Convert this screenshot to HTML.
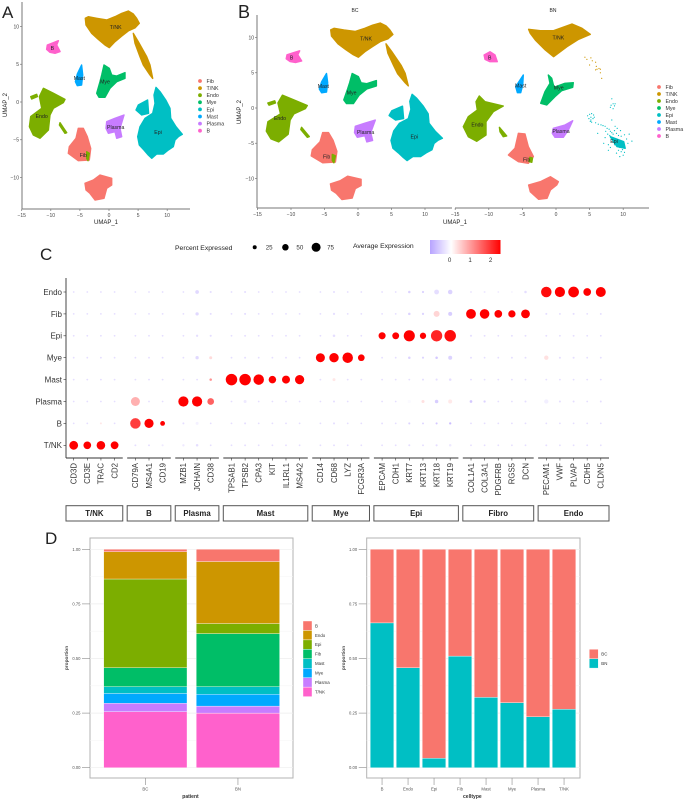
<!DOCTYPE html>
<html lang="en">
<head>
<meta charset="utf-8">
<title>Single-cell atlas figure</title>
<style>
html,body{margin:0;padding:0;background:#fff;}
svg{display:block;font-family:"Liberation Sans",sans-serif;filter:blur(0.3px);}
text{fill:#222;}
</style>
</head>
<body>
<svg id="fig" xmlns="http://www.w3.org/2000/svg" width="685" height="801" viewBox="0 0 685 801">
<defs>
<linearGradient id="avgGradient" x1="0" x2="1" y1="0" y2="0">
<stop offset="0" stop-color="#b7a3ff"/><stop offset="0.3" stop-color="#ffffff"/><stop offset="1" stop-color="#ff0000"/>
</linearGradient>
</defs>
<rect width="685" height="801" fill="#fff"/>
<text x="2" y="18" font-size="17">A</text>
<text x="238" y="18" font-size="18">B</text>
<text x="40" y="260" font-size="17">C</text>
<text x="45" y="544" font-size="17">D</text>
<text x="175" y="250" font-size="6.8">Percent Expressed</text>
<text x="353" y="248" font-size="6.8">Average Expression</text>
<rect x="430" y="240" width="70.5" height="14" fill="url(#avgGradient)"/>
<g id="root"></g>
</svg>
<script>
/* ---------- UMAP data (UMAP_1, UMAP_2 coordinates) ---------- */
const clusterNames = ['Fib','T/NK','Endo','Mye','Epi','Mast','Plasma','B'];
const clusterColors = {'Fib':'#F8766D','T/NK':'#CD9600','Endo':'#7CAE00','Mye':'#00BE67','Epi':'#00BFC4','Mast':'#00A9FF','Plasma':'#C77CFF','B':'#FF61CC'};
const umapTicksX = [-15,-10,-5,0,5,10];
const umapTicksY = [-10,-5,0,5,10];

const shapesAll = [
 ['T/NK',[[-4.07,11.08],[-3.55,11.3],[-2.12,11.08],[-0.4,10.86],[1.03,11.3],[2.18,11.74],[3.32,12.05],[4.18,11.65],[4.75,11.08],[5.21,10.42],[4.47,9.82],[3.32,9.42],[2.18,8.73],[1.03,7.99],[0.06,7.2],[-0.69,7.55],[-1.83,8.3],[-2.98,9.1],[-3.95,10.2]]],
 ['T/NK',[[4.18,9.1],[5.04,7.99],[6.47,6.0],[7.04,4.9],[7.5,3.13],[7.04,3.58],[5.9,4.9],[5.33,6.0],[4.47,7.77]]],
 ['B',[[-10.6,7.55],[-9.56,7.86],[-8.7,8.12],[-8.99,7.55],[-8.4,6.67],[-9.28,6.45],[-10.14,6.58],[-10.72,6.98]]],
 ['Mast',[[-4.7,4.9],[-4.52,3.58],[-4.7,2.25],[-5.44,2.16],[-5.78,2.69],[-5.44,3.71]]],
 ['Mye',[[-0.86,4.9],[0.06,4.46],[0.46,3.58],[1.32,3.44],[2.75,3.89],[2.75,3.13],[1.32,2.69],[0.17,1.81],[-0.69,0.62],[-1.72,0.62],[-2.12,1.15],[-1.55,2.69],[-1.26,3.58]]],
 ['Endo',[[-11.28,1.81],[-9.56,1.15],[-7.56,0.35],[-7.85,-0.09],[-9.56,-0.84],[-10.14,-1.72],[-10.42,-3.71],[-11.85,-4.81],[-13,-4.37],[-13.68,-3.27],[-13.45,-1.94],[-11.56,-0.84],[-11.96,0.71]]],
 ['Endo',[[-8.42,-2.74],[-7.27,-4.06],[-7.56,-4.15],[-8.53,-3.05]]],
 ['Endo',[[-13.46,0.71],[-12.43,1.02],[-12.31,0.71],[-13.29,0.4]]],
 ['Plasma',[[-0.4,-2.6],[1.03,-2.16],[2.58,-1.72],[1.89,-3.49],[2.18,-4.59],[1.32,-4.81],[1.03,-3.93],[-0.11,-4.15],[-0.52,-3.49]]],
 ['Epi',[[8.08,1.94],[8.76,1.37],[9.74,0.26],[10.48,-0.84],[10.6,-2.16],[11.51,-3.27],[12.6,-4.28],[11.91,-4.59],[11.34,-5.03],[11.05,-5.92],[10.19,-6.36],[9.34,-6.89],[8.19,-6.89],[7.33,-7.46],[6.76,-7.02],[6.01,-6.36],[5.21,-5.7],[4.93,-4.59],[5.33,-3.27],[6.19,-2.16],[7.5,-1.5],[7.9,-0.18],[7.73,0.93]]],
 ['Epi',[[5.04,-0.4],[6.64,0.26],[6.81,-1.5],[5.61,-1.72],[4.64,-1.06]]],
 ['Fib',[[-5.27,-3.49],[-4.41,-3.49],[-3.72,-4.59],[-3.15,-6.14],[-3.38,-7.68],[-5.27,-7.77],[-6.99,-6.8],[-6.82,-5.92],[-5.67,-4.81]]],
 ['Fib',[[-4.12,-10.77],[-2.69,-10.33],[-1.55,-9.67],[0.46,-10.11],[0.46,-10.99],[-0.4,-11.43],[-0.86,-12.76],[-2.41,-12.98],[-3.26,-12.1],[-3.95,-11.66]]],
 ['Endo',[[-3.84,-6.58],[-3.38,-6.8],[-3.6,-7.77],[-3.84,-7.46]]]
];
const shapesBN = [
 ['T/NK',[[-4.07,11.16],[-2.33,10.97],[-0.35,10.97],[2.38,11.92],[3.87,11.3],[5.11,10.45],[3.37,9.74],[1.63,8.7],[-0.35,7.28],[-1.59,8.23],[-3.08,9.65],[-3.82,10.59]]],
 ['B',[[-10.7,7.52],[-9.82,7.99],[-9.08,7.52],[-8.73,6.57],[-9.82,6.57],[-10.57,6.9]]],
 ['Mast',[[-4.86,4.68],[-4.96,3.26],[-5.26,2.17],[-5.75,2.17],[-6,3.03]]],
 ['Mye',[[-1.14,4.68],[-0.64,4.21],[-0.3,2.93],[1.34,3.5],[2.58,3.59],[2.48,2.93],[0.84,2.46],[-0.15,1.61],[-1.39,0.43],[-2.28,0.66],[-1.64,2.32],[-0.89,3.5]]],
 ['Endo',[[-11.41,1.7],[-10.57,0.9],[-7.84,0.28],[-9.33,-0.52],[-10.42,-1.94],[-10.42,-3.83],[-11.8,-4.73],[-13.05,-4.07],[-13.79,-2.65],[-13.05,-1.23],[-11.71,-0.28],[-11.9,0.9]]],
 ['Endo',[[-8.43,-2.74],[-7.34,-3.97],[-7.84,-4.07],[-8.33,-3.36]]],
 ['Plasma',[[-0.4,-2.88],[1.34,-2.41],[2.48,-1.8],[1.84,-3.12],[1.09,-4.16],[-0.15,-4.16],[-0.55,-3.6]]],
 ['Fib',[[-5.6,-3.59],[-4.61,-3.69],[-4.12,-5.48],[-3.37,-6.9],[-4.12,-7.85],[-5.6,-7.61],[-7.09,-6.67],[-6.1,-5.72]]],
 ['Fib',[[-4.07,-10.92],[-2.33,-10.45],[-0.84,-9.74],[0.35,-10.45],[0.1,-10.92],[-0.84,-11.63],[-1.34,-12.81],[-2.58,-12.95],[-3.82,-11.87]]],
 ['Epi',[[8.08,-4.07],[10.07,-4.78],[10.3,-5.72],[9.08,-5.48]]],
 ['Endo',[[-3.9,-7],[-3.5,-7.1],[-3.6,-7.7],[-4,-7.6]]]
];
const scatterEpiBN = [[4.7,-1.1],[5,-0.9],[5.3,-0.8],[5.6,-1],[5.2,-1.3],[4.9,-1.5],[5.5,-1.5],[5.7,-1.3],[5.1,-1.9],[5.3,-2],[5.2,-1.7],[5.9,-2.1],[6.3,-2.3],[6.7,-2.4],[7,-2.5],[7.3,-2.6],[7.6,-2.9],[7.9,-3],[8.1,-3.3],[8.3,-3.5],[8.5,-3.7],[8.7,-3.2],[9,-3.6],[8,-3.9],[8.3,-4.3],[7.7,-3.7],[7.4,-3.3],[8.8,-2.6],[8.3,-1.7],[9.1,-2.9],[8.5,-0.1],[8.2,0.4],[8.5,0.6],[8.7,0.3],[8.3,1.3],[8.1,0.1],[8.8,0.6],[7.3,-4.2],[7.1,-5],[7.8,-5.2],[8.1,-5.6],[8.7,-5.2],[9,-6.4],[9.5,-6.9],[9.7,-6.2],[10,-6.7],[10.2,-6.3],[9.3,-6],[10.7,-5],[11.3,-4.7],[10.9,-3.7],[9.7,-4],[9.2,-4.5],[9.6,-3.2],[10.2,-3.8],[8.7,-4.6],[9.5,-5.6],[9.9,-5.9],[8.5,-4.9],[9.3,-3.9],[6.2,-3.6],[7.8,-6],[10.5,-4.4]];
const scatterTnkBN = [[4.3,7.2],[4.6,6.9],[5.2,7.1],[5.4,6.7],[5.9,6.5],[6,5.9],[6.4,5.6],[6.1,5.5],[5.9,5.4],[6.6,5.5],[6.6,5],[6.8,4.2],[5,6.1]];
const labelsA = [['T/NK',1.15,9.9],['Endo',-11.57,-1.9],['B',-9.74,7.1],['Mast',-5.1,3.18],['Mye',-0.69,2.69],['Plasma',1.15,-3.36],['Epi',8.42,-4.02],['Fib',-4.41,-7.02]];
const labelsBC = [['T/NK',1.2,9.8],['Endo',-11.64,-1.42],['B',-9.9,7.1],['Mast',-5.17,3.1],['Mye',-0.95,2.17],['Plasma',1.14,-3.45],['Epi',8.4,-4.07],['Fib',-4.68,-6.9]];
const labelsBN = [['T/NK',0.35,10],['Endo',-11.7,-2.36],['B',-9.87,7.1],['Mast',-5.26,3.17],['Mye',0.4,2.88],['Plasma',0.74,-3.3],['Epi',8.63,-4.68],['Fib',-4.37,-7.33]];

/* ---------- Dot plot data ---------- */
const dotRows = ['Endo','Fib','Epi','Mye','Mast','Plasma','B','T/NK'];
const geneGroups = ['T/NK','B','Plasma','Mast','Mye','Epi','Fibro','Endo'];
const genesByGroup = [['CD3D','CD3E','TRAC','CD2'],['CD79A','MS4A1','CD19'],['MZB1','JCHAIN','CD38'],['TPSAB1','TPSB2','CPA3','KIT','IL1RL1','MS4A2'],['CD14','CD68','LYZ','FCGR3A'],['EPCAM','CDH1','KRT7','KRT13','KRT18','KRT19'],['COL1A1','COL3A1','PDGFRB','RGS5','DCN'],['PECAM1','VWF','PLVAP','CDH5','CLDN5']];
const pctEndo   = [3,3,3,3, 3,3,3, 3,22,6, 3,6,3,3,3,3, 3,5,3,3, 3,3,10,7,33,30, 6,5,3,4,10, 90,87,92,62,85];
const pctFib    = [3,3,3,3, 3,3,3, 3,18,5, 3,6,3,3,3,3, 3,7,3,3, 3,3,10,7,45,25, 83,81,62,58,73, 5,4,5,3,4];
const pctEpi    = [3,3,3,3, 3,3,3, 3,8,6, 3,4,3,3,3,3, 3,10,3,3, 56,54,96,48,98,100, 6,4,3,4,4, 4,3,4,3,3];
const pctMye    = [3,3,3,3, 3,3,3, 3,18,15, 3,4,3,3,3,3, 75,79,90,52, 3,3,10,6,10,25, 4,3,3,4,4, 28,5,5,3,3];
const pctMast   = [3,3,3,3, 3,3,3, 3,3,10, 100,100,90,60,65,77, 3,15,3,3, 3,3,3,5,6,10, 3,3,3,3,3, 3,3,3,3,3];
const pctPlasma = [3,3,3,3, 75,3,3, 87,87,52, 3,15,3,3,3,3, 3,5,3,3, 3,3,18,15,20,25, 12,8,3,3,5, 28,5,5,3,4];
const pctB      = [3,3,5,3, 90,77,33, 5,15,3, 3,5,3,3,3,3, 3,6,3,3, 4,3,6,4,6,8, 3,3,3,3,3, 3,3,3,3,3];
const pctTNK    = [73,62,71,63, 4,4,6, 8,10,3, 3,4,3,3,3,3, 3,4,3,3, 3,3,5,4,6,10, 3,3,3,3,3, 4,3,3,3,3];
const pctMatrix = [pctEndo,pctFib,pctEpi,pctMye,pctMast,pctPlasma,pctB,pctTNK];
const avgEndo   = [-.2,-.2,-.2,-.2, -.2,-.2,-.2, -.2,-.25,-.2, -.2,-.2,-.2,-.2,-.2,-.2, -.2,-.2,-.2,-.2, -.2,-.2,-.3,-.3,-.2,-.3, -.1,-.1,-.1,0,-.2, 2.1,2.5,2.5,2.5,2.5];
const avgFib    = [-.2,-.2,-.2,-.2, -.2,-.2,-.2, -.2,-.25,-.2, -.2,-.2,-.2,-.2,-.2,-.2, -.2,-.2,-.2,-.2, -.2,-.2,-.3,-.3,.45,-.35, 2.5,2.5,2.5,2.3,2.5, -.2,-.2,-.2,-.2,-.2];
const avgEpi    = [-.2,-.2,-.2,-.2, -.2,-.2,-.2, -.2,-.2,-.2, -.2,-.2,-.2,-.2,-.2,-.2, -.2,-.2,-.2,-.2, 2.5,2.5,2.5,2.5,1.9,2.1, -.2,-.2,-.2,-.2,-.2, -.2,-.2,-.2,-.2,-.2];
const avgMye    = [-.2,-.2,-.2,-.2, -.2,-.2,-.2, -.2,-.25,.4, -.2,-.2,-.2,-.2,-.2,-.2, 2.5,2.4,2.5,2.5, -.2,-.2,-.3,-.3,-.4,-.3, -.2,-.2,-.2,-.2,-.2, .35,-.2,-.2,-.2,-.2];
const avgMast   = [-.2,-.2,-.2,-.2, -.2,-.2,-.2, -.2,-.2,1, 2.5,2.5,2.5,2.5,2.5,2.5, -.2,.3,-.2,-.2, -.2,-.2,-.2,-.2,-.2,-.2, -.2,-.2,-.2,-.2,-.2, -.2,-.2,-.2,-.2,-.2];
const avgPlasma = [-.2,-.2,-.2,-.2, .75,-.2,-.2, 2.5,2.5,1.4, -.2,-.1,-.2,-.2,-.2,-.2, -.2,-.2,-.2,-.2, -.2,-.2,.05,.35,-.35,.28, -.4,-.3,-.2,-.2,-.2, -.05,-.2,-.2,-.2,-.2];
const avgB      = [-.2,-.2,.3,-.2, 1.7,2.5,2.5, -.2,-.03,-.2, -.2,-.2,-.2,-.2,-.2,-.2, -.2,-.2,-.2,-.2, -.2,-.2,-.3,-.3,-.4,-.5, -.2,-.2,-.2,-.2,-.2, -.2,-.2,-.2,-.2,-.2];
const avgTNK    = [2.5,2.4,2.2,2.4, -.2,-.2,-.1, -.1,-.2,-.2, -.2,-.2,-.2,-.2,-.2,-.2, -.2,-.2,-.2,-.2, -.2,-.2,-.2,-.2,-.2,-.1, -.2,-.2,-.2,-.2,-.2, -.2,-.2,-.2,-.2,-.2];
const avgMatrix = [avgEndo,avgFib,avgEpi,avgMye,avgMast,avgPlasma,avgB,avgTNK];
const sizeLegendValues = [25,50,75];
const colorbarTicks = [0,1,2];

/* ---------- Stacked bar data ---------- */
const patientCategories = ['BC','BN'];
const stackOrderLeft = ['T/NK','Plasma','Mye','Mast','Fib','Epi','Endo','B'];
const shareBC = [0.2565,0.0385,0.045,0.031,0.087,0.406,0.125,0.011];
const shareBN = [0.25,0.032,0.054,0.035,0.243,0.046,0.284,0.056];
const legendOrderLeft = ['B','Endo','Epi','Fib','Mast','Mye','Plasma','T/NK'];
const legendColorsLeft = {'B':'#F8766D','Endo':'#CD9600','Epi':'#7CAE00','Fib':'#00BE67','Mast':'#00BFC4','Mye':'#00A9FF','Plasma':'#C77CFF','T/NK':'#FF61CC'};
const celltypeCategories = ['B','Endo','Epi','Fib','Mast','Mye','Plasma','T/NK'];
const celltypeShareBN = [0.663,0.458,0.043,0.511,0.322,0.298,0.233,0.268];
const celltypeShareBC = [0.337,0.542,0.957,0.489,0.678,0.702,0.767,0.732];
const proportionTicks = [0,0.25,0.5,0.75,1];
const proportionMinor = [0.125,0.375,0.625,0.875];

/* ---------- Helpers ---------- */
const NS = 'http://www.w3.org/2000/svg';
const root = document.getElementById('root');
function mk(tag, props, parent){
  const e = document.createElementNS(NS, tag);
  for (const k in props) e.setAttribute(k, props[k]);
  (parent || root).appendChild(e);
  return e;
}
function slug(s){ return String(s).toLowerCase().replace(/[^a-z0-9]+/g,'-').replace(/^-|-$/g,''); }
function txt(str, x, y, size, anchor, parent, extra){
  const e = mk('text', Object.assign({x:x, y:y, 'font-size':size, 'text-anchor':anchor||'start'}, extra||{}), parent);
  e.textContent = str;
  return e;
}
function line(x1,y1,x2,y2,color,w,parent){
  return mk('line',{x1:x1,y1:y1,x2:x2,y2:y2,stroke:color,'stroke-width':w},parent);
}
function fmt(v){ return v<0 ? '\u2212'+Math.abs(v) : String(v); }

/* ---------- UMAP panels ---------- */
function umapPanel(cfg){
  const g = mk('g',{});
  
  
  const X = u => cfg.x0 + cfg.sx*u;
  const Y = v => cfg.y0 - cfg.sy*v;
  const marks = mk('g',{},g);
  
  
  cfg.shapes.forEach(s => {
    const c = clusterColors[s[0]];
    const p = mk('polygon',{points:s[1].map(q=>X(q[0]).toFixed(1)+','+Y(q[1]).toFixed(1)).join(' '),fill:c,stroke:c,'stroke-width':1.4,'stroke-linejoin':'round'},marks);
    
    
  });
  (cfg.scatter||[]).forEach(s => {
    s[1].forEach(q => {
      const d = mk('circle',{cx:X(q[0]).toFixed(1),cy:Y(q[1]).toFixed(1),r:0.6,fill:clusterColors[s[0]]},marks);
      
      
    });
  });
  cfg.labels.forEach(l => {
    const t = txt(l[0], X(l[1]), Y(l[2])+1.8, 5.2, 'middle', g);
    
    
  });
  const axisColor = '#777';
  const xAxis = line(cfg.axisL, cfg.axisB, cfg.axisR, cfg.axisB, axisColor, 1, g);
  
  
  umapTicksX.forEach(t => {
    line(X(t),cfg.axisB,X(t),cfg.axisB+2,axisColor,0.7,g);
    const lab = txt(fmt(t), X(t), cfg.axisB+8, 5, 'middle', g, {style:'fill:#444'});
    
    
  });
  if (cfg.showY){
    const yAxis = line(cfg.axisL, cfg.axisT, cfg.axisL, cfg.axisB, axisColor, 1, g);
    
    
    umapTicksY.forEach(t => {
      line(cfg.axisL-2,Y(t),cfg.axisL,Y(t),axisColor,0.7,g);
      const lab = txt(fmt(t), cfg.axisL-3, Y(t)+1.8, 5, 'end', g, {style:'fill:#444'});
      
      
    });
    const yt = txt('UMAP_2', cfg.yTitleX, cfg.yTitleY, 6, 'middle', g, {transform:'rotate(-90 '+cfg.yTitleX+' '+cfg.yTitleY+')'});
    
    
  }
  if (cfg.title){
    const tt = txt(cfg.title, X(0)-3, 12, 5, 'middle', g);
    
    
  }
  if (cfg.legendX){
    clusterNames.forEach((n,i) => {
      const y = cfg.legendY + i*cfg.legendStep;
      const d = mk('circle',{cx:cfg.legendX,cy:y,r:1.9,fill:clusterColors[n]},g);
      
      
      const t = txt(n, cfg.legendX+6.5, y+1.9, 5.3, 'start', g, {style:'fill:#333'});
      
      
    });
  }
}
umapPanel({name:'all-cells',x0:109,sx:5.82,y0:102,sy:7.55,shapes:shapesAll,labels:labelsA,axisL:22,axisR:190,axisB:209,axisT:2,showY:true,yTitleX:7,yTitleY:105,legendX:200,legendY:81,legendStep:7.1});
umapPanel({name:'bc',x0:358,sx:6.7,y0:108,sy:7.05,shapes:shapesAll,labels:labelsBC,axisL:257,axisR:452,axisB:208,axisT:15,showY:true,yTitleX:241,yTitleY:112,title:'BC'});
umapPanel({name:'bn',x0:556,sx:6.72,y0:108,sy:7.05,shapes:shapesBN,scatter:[['Epi',scatterEpiBN],['T/NK',scatterTnkBN]],labels:labelsBN,axisL:455,axisR:649,axisB:208,axisT:15,showY:false,title:'BN',legendX:659,legendY:87,legendStep:7});
const t1a = txt('UMAP_1', 106, 224, 6, 'middle');


const t1b = txt('UMAP_1', 455, 224, 6, 'middle');



/* ---------- Dot plot ---------- */
const dotX0 = 73.7, geneStep = 13.62, groupGap = 7.2;
const rowY0 = 292, rowStep = 21.9;
const rowY = i => rowY0 + i*rowStep;
const geneX = (geneIndex, groupIndex) => dotX0 + geneIndex*geneStep + groupIndex*groupGap;
const radius = p => 0.75 + 0.05*p;
function avgColor(v){
  const w = 0.1;
  const mix = (a,b,t) => Math.round(a+(b-a)*t);
  if (v <= w){
    const t = Math.min(1,(w-v)/1.05);
    return 'rgb('+mix(255,164,t)+','+mix(255,140,t)+',255)';
  }
  const t = Math.min(1,(v-w)/2.1);
  return 'rgb(255,'+mix(255,0,t)+','+mix(255,0,t)+')';
}
const dotG = mk('g',{});


const dyAxis = line(66,278,66,458,'#333',0.9,dotG);


dotRows.forEach((r,i) => {
  line(63.5,rowY(i),66,rowY(i),'#333',0.6,dotG);
  const t = txt(r, 62, rowY(i)+2.9, 8, 'end', dotG, {style:'fill:#333'});
  
  
});
let geneCounter = 0;
genesByGroup.forEach((genes,gi) => {
  const firstX = geneX(geneCounter,gi), lastX = geneX(geneCounter+genes.length-1,gi);
  const left = gi===0 ? 66 : firstX-8.2, right = lastX+8.2;
  const seg = line(left,458,right,458,'#333',0.9,dotG);
  
  
  const box = mk('rect',{x:left,y:505.7,width:right-left,height:15.3,fill:'#fff',stroke:'#555','stroke-width':1},dotG);
  
  
  const bl = txt(geneGroups[gi], (left+right)/2, 516.2, 7.8, 'middle', dotG, {'font-weight':'bold',style:'fill:#222'});
  
  
  genes.forEach((gene,k) => {
    const idx = geneCounter + k;
    const x = geneX(idx,gi);
    line(x,458,x,460.5,'#333',0.6,dotG);
    const lab = txt(gene, x+2.8, 463, 7.8, 'end', dotG, {transform:'rotate(-90 '+(x+2.8)+' 463)',style:'fill:#333'});
    
    
    dotRows.forEach((r,ri) => {
      const d = mk('circle',{cx:x.toFixed(1),cy:rowY(ri).toFixed(1),r:radius(pctMatrix[ri][idx]).toFixed(2),fill:avgColor(avgMatrix[ri][idx])},dotG);
      
      
    });
  });
  geneCounter += genes.length;
});
sizeLegendValues.forEach((v,i) => {
  const x = 254.7 + i*30.7;
  const d = mk('circle',{cx:x,cy:247.3,r:radius(v),fill:'#000'},dotG);
  
  
  const t = txt(String(v), x+11, 249.6, 6.2, 'start', dotG, {style:'fill:#333'});
  
  
});
colorbarTicks.forEach(v => {
  const t = txt(String(v), 449.6 + v*20.5, 262, 6.2, 'middle', dotG, {style:'fill:#333'});
  
  
});

/* ---------- Stacked bars ---------- */
function barFrame(cfg){
  const g = mk('g',{});
  
  
  const panel = mk('rect',{x:cfg.l,y:538,width:cfg.r-cfg.l,height:240,fill:'#fff',stroke:'#b3b3b3','stroke-width':1},g);
  
  
  const Y = v => 767.7 - 218.4*v;
  proportionMinor.forEach(v => line(cfg.l,Y(v),cfg.r,Y(v),'#f5f5f5',0.5,g));
  proportionTicks.forEach(v => {
    line(cfg.l,Y(v),cfg.r,Y(v),'#eeeeee',0.7,g);
    line(cfg.l-8,Y(v),cfg.l,Y(v),'#888',0.6,g);
    const t = txt(v.toFixed(2), cfg.l-9.5, Y(v)+1.5, 4.2, 'end', g, {style:'fill:#555'});
    
    
  });
  const yt = txt('proportion', cfg.yTitleX, 658, 4.8, 'middle', g, {transform:'rotate(-90 '+cfg.yTitleX+' 658)','font-weight':'bold',style:'fill:#444'});
  
  
  const xt = txt(cfg.xTitle, (cfg.l+cfg.r)/2-1, 798, 5, 'middle', g, {'font-weight':'bold',style:'fill:#333'});
  
  
  return {g:g,Y:Y};
}
function segment(g,Y,x,w,lo,hi,color,name){
  const r = mk('rect',{x:x,y:Y(hi),width:w,height:Y(lo)-Y(hi),fill:color,stroke:'#fff','stroke-width':0.35},g);
  
  
}
function xTick(g,x,label){
  line(x,778,x,785,'#888',0.6,g);
  const t = txt(label, x, 790.5, 4.3, 'middle', g, {style:'fill:#555'});
  
  
}
function legendKey(g,x,y,color,label,h){
  const k = mk('rect',{x:x,y:y,width:9,height:h,fill:color,stroke:'#fff','stroke-width':0.4},g);
  
  
  const t = txt(label, x+12, y+h/2+1.6, 4.4, 'start', g, {style:'fill:#333'});
  
  
}
/* patient chart */
const leftF = barFrame({name:'patient',l:90,r:293,yTitleX:68,xTitle:'patient'});
const patientBarX = i => 103.7 + i*92.6;
const patientBarW = 83.3;
[shareBC,shareBN].forEach((shares,i) => {
  let base = 0;
  shares.forEach((s,k) => {
    const name = stackOrderLeft[k];
    segment(leftF.g,leftF.Y,patientBarX(i),patientBarW,base,base+s,legendColorsLeft[name],'bar-' + slug(patientCategories[i]) + '-' + slug(name));
    base += s;
  });
  xTick(leftF.g,patientBarX(i)+patientBarW/2,patientCategories[i]);
});
legendOrderLeft.forEach((n,i) => legendKey(leftF.g,303,621+i*9.45,legendColorsLeft[n],n,9.45));
/* celltype chart */
const rightF = barFrame({name:'celltype',l:366.7,r:580,yTitleX:345,xTitle:'celltype'});
const typeBarX = i => 370.3 + i*26;
const typeBarW = 23.5;
celltypeCategories.forEach((c,i) => {
  segment(rightF.g,rightF.Y,typeBarX(i),typeBarW,0,celltypeShareBN[i],'#00BFC4','bar-bn-' + slug(c));
  segment(rightF.g,rightF.Y,typeBarX(i),typeBarW,celltypeShareBN[i],celltypeShareBN[i]+celltypeShareBC[i],'#F8766D','bar-bc-' + slug(c));
  xTick(rightF.g,typeBarX(i)+typeBarW/2,c);
});
legendKey(rightF.g,589.3,649.3,'#F8766D','BC',9.4);
legendKey(rightF.g,589.3,658.7,'#00BFC4','BN',9.4);
</script>
</body>
</html>
